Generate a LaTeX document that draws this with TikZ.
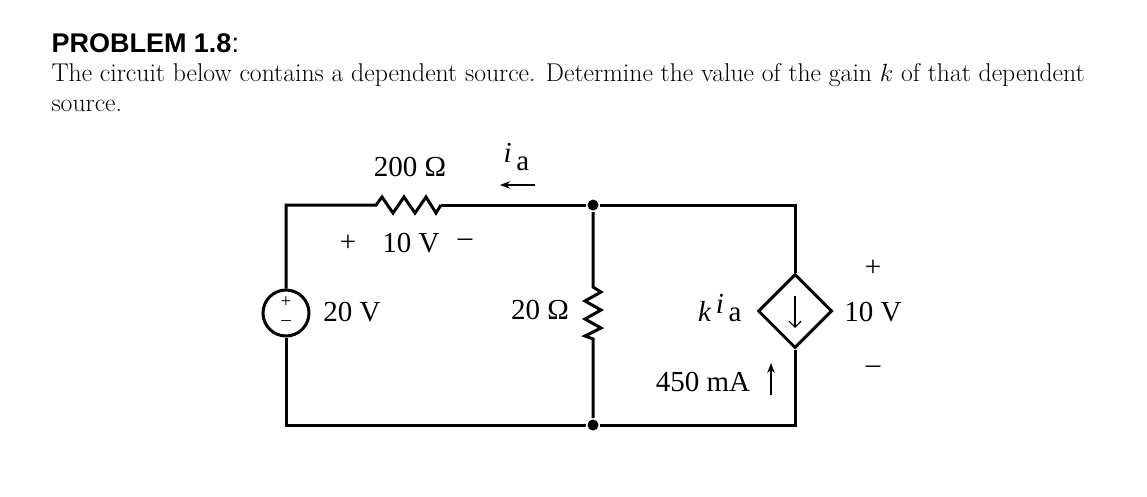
\documentclass[tikz,border=0pt]{standalone}
\usepackage{fontspec}
\newfontfamily\cf{Liberation Serif}
\newfontfamily\hf{Liberation Sans}
\usetikzlibrary{arrows.meta,shapes.geometric}
\begin{document}
\begin{tikzpicture}[x=1pt,y=-1pt,line width=3pt,line join=miter,
 lbl/.style={font=\cf\fontsize{29}{32}\selectfont,inner sep=0},
 dot/.style={circle,fill,inner sep=0,minimum size=11pt}]
\useasboundingbox (0,0) rectangle (1147,496);
\node[anchor=base west,inner sep=0,font=\hf\bfseries\fontsize{27}{30}\selectfont] (t) at (50,52) {PROBLEM 1.8\textmd{:}};
\node[anchor=base west,inner sep=0,font=\fontsize{25.7}{30}\selectfont] (l1) at (50,81) {The circuit below contains a dependent source. Determine the value of the gain $k$ of that dependent};
\node[anchor=base west,inner sep=0,font=\fontsize{25.7}{30}\selectfont] (l2) at (50,111) {source.};
% nodes
\coordinate (tl) at (286,205); \coordinate (bl) at (286,425);
\node[dot] (nt) at (593,205) {}; \node[dot] (nb) at (593,425) {};
\coordinate (tr) at (795,205); \coordinate (br) at (795,425);
\node[circle,draw,minimum size=46pt,inner sep=0] (vs) at (286,313) {};
\node[font=\cf\fontsize{19}{19}\selectfont,inner sep=0] at (286,302) {+};
\node[font=\cf\fontsize{19}{19}\selectfont,inner sep=0] at (286,323) {–};
\node[draw,diamond,minimum size=74pt,inner sep=0,aspect=1] (ds) at (795,311) {};
\draw[line width=1.2pt,-{Straight Barb[length=6pt]}] (795,296) -- (795,328);
\coordinate (r1a) at (376,205); \coordinate (r1b) at (441,205);
\coordinate (r2a) at (593,287); \coordinate (r2b) at (593,339);
\draw (vs.north) -- (tl) -- (r1a) -- ++(6,-8) -- ++(11,16) -- ++(11,-16) -- ++(11,16) -- ++(11,-16) -- ++(10,16) -- (r1b);
\draw (r1b) -- (nt) -- (tr) -- (ds.north);
\draw (nt) -- (r2a) -- ++(8,5) -- ++(-16,9) -- ++(16,9) -- ++(-16,9) -- ++(16,9) -- ++(-16,8) -- (r2b) -- (nb);
\draw (vs.south) -- (bl) -- (nb) -- (br) -- (ds.south);
% labels
\node[lbl] at (410,167) {200 Ω};
\node[lbl,anchor=base west] at (502,170) {\raisebox{8pt}{\itshape i}\,a};
\draw[line width=1.8pt,-{Stealth[length=10pt]}] (535,185) -- (500,185);
\node[lbl] at (348,243) {+};
\node[lbl] at (411,243) {10 V};
\node[lbl] at (465,243) {–};
\node[lbl] at (352,312) {20 V};
\node[lbl] at (540,310) {20 Ω};
\node[lbl,anchor=base east] at (743,321) {\itshape k\,\raisebox{8pt}{i}\,\upshape a};
\node[lbl] at (703,382) {450 mA};
\draw[line width=1.8pt,-{Stealth[length=10pt]}] (771,395) -- (771,363);
\node[lbl] at (873,268) {+};
\node[lbl] at (873,312) {10 V};
\node[lbl] at (873,370) {–};
\end{tikzpicture}
\end{document}
